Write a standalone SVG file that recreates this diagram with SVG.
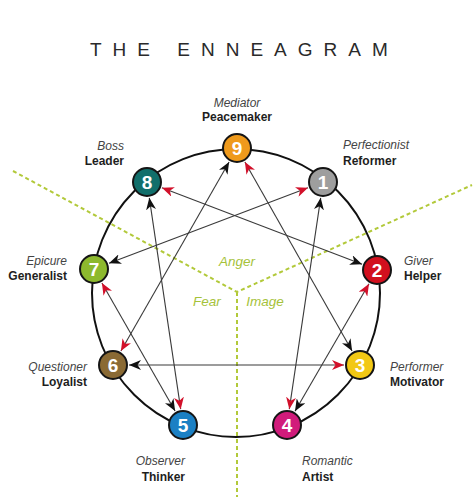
<svg xmlns="http://www.w3.org/2000/svg" width="474" height="497" viewBox="0 0 474 497">
<defs>
<style>
.title{font-family:"Liberation Sans",Arial,sans-serif;font-size:19px;fill:#2a2a2a;letter-spacing:11px}
.it{font-family:"Liberation Sans",Arial,sans-serif;font-size:12px;font-style:italic;fill:#444}
.bd{font-family:"Liberation Sans",Arial,sans-serif;font-size:12px;font-weight:bold;fill:#1e1e1e}
.num{font-family:"Liberation Sans",Arial,sans-serif;font-size:19px;font-weight:bold;fill:#fff;text-anchor:middle}
.zone{font-family:"Liberation Sans",Arial,sans-serif;font-size:13.5px;font-style:italic;fill:#a5c23a;text-anchor:middle}
.dash{stroke:#b2c93a;stroke-width:2;stroke-dasharray:4 3;fill:none}
.ring{stroke:#111;stroke-width:2;fill:none}
.node{stroke:#151515;stroke-width:2}
.ln{stroke:#3a3a3a;stroke-width:1.1;fill:none}
.r{text-anchor:end}
</style>
<marker id="hb" viewBox="0 0 12 10" refX="12" refY="5" markerWidth="12" markerHeight="10" markerUnits="userSpaceOnUse" orient="auto-start-reverse">
<path d="M0,0 L12,5 L0,10 L3.5,5 Z" fill="#111"/>
</marker>
<marker id="hr" viewBox="0 0 12 10" refX="12" refY="5" markerWidth="12" markerHeight="10" markerUnits="userSpaceOnUse" orient="auto-start-reverse">
<path d="M0,0 L12,5 L0,10 L3.5,5 Z" fill="#d2102a"/>
</marker>
</defs>
<rect width="474" height="497" fill="#fff"/>
<text class="title" x="90" y="56">THE ENNEAGRAM</text>

<g id="zones">
<path class="dash" d="M13,171 L237,292 L472,185 M237,292 L237,497"/>
<text class="zone" x="237" y="266">Anger</text>
<text class="zone" x="207" y="306">Fear</text>
<text class="zone" x="265" y="306">Image</text>
</g>

<circle class="ring" cx="236" cy="293" r="144"/>

<g id="connectors">
<line class="ln" x1="229.1" y1="161.9" x2="120.9" y2="351.1" marker-start="url(#hb)" marker-end="url(#hr)"/>
<line class="ln" x1="352.1" y1="351.1" x2="244.9" y2="161.9" marker-start="url(#hb)" marker-end="url(#hr)"/>
<line class="ln" x1="129" y1="365" x2="344" y2="365" marker-start="url(#hb)" marker-end="url(#hr)"/>
<line class="ln" x1="161.9" y1="187.7" x2="362.1" y2="264.3" marker-start="url(#hr)" marker-end="url(#hb)"/>
<line class="ln" x1="149.3" y1="197.8" x2="180.7" y2="409.2" marker-start="url(#hb)" marker-end="url(#hr)"/>
<line class="ln" x1="109.0" y1="263.3" x2="308.0" y2="187.7" marker-start="url(#hb)" marker-end="url(#hr)"/>
<line class="ln" x1="101.9" y1="282.9" x2="175.1" y2="411.1" marker-start="url(#hr)" marker-end="url(#hb)"/>
<line class="ln" x1="320.7" y1="197.8" x2="289.3" y2="409.2" marker-start="url(#hb)" marker-end="url(#hr)"/>
<line class="ln" x1="369.0" y1="283.8" x2="295.0" y2="411.2" marker-start="url(#hr)" marker-end="url(#hb)"/>
</g>

<g id="n9">
<circle class="node" cx="237" cy="148" r="14" fill="#ef9a1c"/>
<text class="num" x="237" y="155">9</text>
<text class="it" x="237" y="107" text-anchor="middle">Mediator</text>
<text class="bd" x="237" y="121" text-anchor="middle">Peacemaker</text>
</g>
<g id="n1">
<circle class="node" cx="323" cy="182" r="14" fill="#9e9e9e"/>
<text class="num" x="323" y="189">1</text>
<text class="it" x="343" y="149">Perfectionist</text>
<text class="bd" x="343" y="165">Reformer</text>
</g>
<g id="n2">
<circle class="node" cx="377" cy="270" r="14" fill="#d2101e"/>
<text class="num" x="377" y="277">2</text>
<text class="it" x="404" y="265">Giver</text>
<text class="bd" x="404" y="280">Helper</text>
</g>
<g id="n3">
<circle class="node" cx="360" cy="365" r="14" fill="#f2c814"/>
<text class="num" x="360" y="372">3</text>
<text class="it" x="390" y="371">Performer</text>
<text class="bd" x="390" y="386">Motivator</text>
</g>
<g id="n4">
<circle class="node" cx="287" cy="425" r="14" fill="#d11b7b"/>
<text class="num" x="287" y="432">4</text>
<text class="it" x="302" y="465">Romantic</text>
<text class="bd" x="302" y="481">Artist</text>
</g>
<g id="n5">
<circle class="node" cx="183" cy="425" r="14" fill="#1b80c4"/>
<text class="num" x="183" y="432">5</text>
<text class="it r" x="185" y="465">Observer</text>
<text class="bd r" x="185" y="481">Thinker</text>
</g>
<g id="n6">
<circle class="node" cx="113" cy="365" r="14" fill="#8a6a34"/>
<text class="num" x="113" y="372">6</text>
<text class="it r" x="87" y="371">Questioner</text>
<text class="bd r" x="87" y="386">Loyalist</text>
</g>
<g id="n7">
<circle class="node" cx="94" cy="269" r="14" fill="#8db92e"/>
<text class="num" x="94" y="276">7</text>
<text class="it r" x="67" y="265">Epicure</text>
<text class="bd r" x="67" y="280">Generalist</text>
</g>
<g id="n8">
<circle class="node" cx="147" cy="182" r="14" fill="#116f6b"/>
<text class="num" x="147" y="189">8</text>
<text class="it r" x="124" y="150">Boss</text>
<text class="bd r" x="124" y="165">Leader</text>
</g>
</svg>
